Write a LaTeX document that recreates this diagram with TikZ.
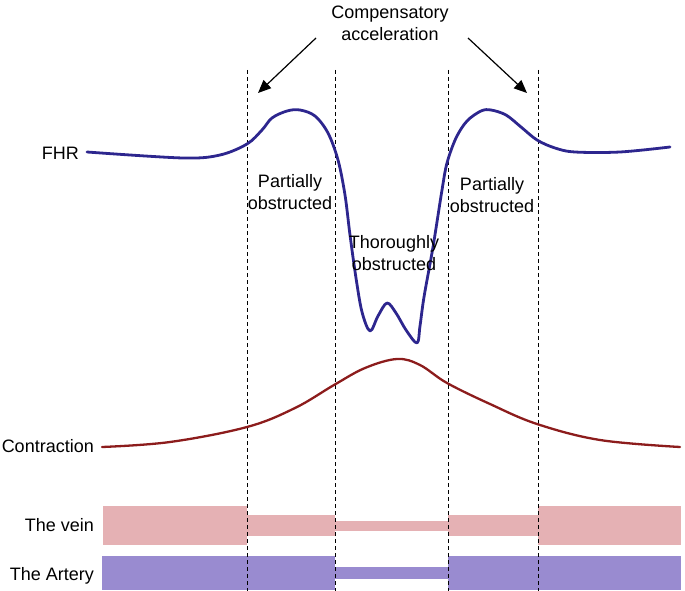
\documentclass[tikz,border=0pt]{standalone}
\usepackage{fontspec}
\setmainfont{Liberation Sans}
\usetikzlibrary{arrows.meta}
\definecolor{fhrblue}{RGB}{45,38,142}
\definecolor{contred}{RGB}{140,28,28}
\definecolor{veinpink}{RGB}{229,177,180}
\definecolor{arterypurple}{RGB}{153,139,208}
\tikzset{
  lbl/.style={font=\fontsize{18}{22}\selectfont, inner sep=0pt, align=center},
  rlbl/.style={font=\fontsize{18}{22}\selectfont, inner sep=0pt, anchor=east},
  divider/.style={black, line width=1pt, dash pattern=on 4pt off 3pt},
  fhr/.style={fhrblue, line width=2.8pt, line cap=round, line join=round},
  contr/.style={contred, line width=2.3pt, line cap=round},
  vein/.style={fill=veinpink, draw=none},
  artery/.style={fill=arterypurple, draw=none},
  pointer/.style={-{Triangle[length=13pt,width=11pt]}, line width=1.2pt, black}
}
\begin{document}
\begin{tikzpicture}[x=1pt,y=-1pt]
\useasboundingbox (0,0) rectangle (685,591);
% bars
\fill[vein] (103,506) rectangle (247,545);
\fill[vein] (247,515) rectangle (335,536);
\fill[vein] (335,521) rectangle (448,531);
\fill[vein] (448,515) rectangle (538,536);
\fill[vein] (538,506) rectangle (681,545);
\fill[artery] (102,556) rectangle (335,590);
\fill[artery] (335,567) rectangle (448,579);
\fill[artery] (448,556) rectangle (681,590);
% dividers
\foreach \x/\n in {247/a,335/b,448/c,538/d}{
  \coordinate (top\n) at (\x,70);
  \coordinate (bot\n) at (\x,591);
  \draw[divider] (top\n) -- (bot\n);
}
% contraction
\draw[contr] plot[smooth, tension=0.6] coordinates {(102,447) (170,442) (247,427) (295,408) (334,385) (365,368) (397,359) (420,365) (447,383) (490,404) (537,424) (600,440) (680,447)};
% FHR
\draw[fhr] plot[smooth, tension=0.55] coordinates {(87,152) (183,158) (220,155) (247,144) (262,130) (272,118) (287,111) (300,110) (315,116) (328,133) (338,160) (345,195) (350,235) (356,278) (362,312) (370,331) (378,316) (387,303) (396,313) (406,330) (417,343) (420,326) (424,297) (433,247) (442,190) (447,163) (456,138) (467,121) (481,111) (491,110) (506,115) (521,127) (537,140) (555,148) (575,152) (620,152) (670,147)};
% labels
\node[rlbl] (fhrl) at (79,153) {FHR};
\node[rlbl] (contl) at (94,446) {Contraction};
\node[rlbl] (veinl) at (94,525) {The vein};
\node[rlbl] (artl) at (94,576) {The Artery};
\node[lbl] (p1) at (290,192) {Partially\\obstructed};
\node[lbl] (th) at (394,253) {Thoroughly\\obstructed};
\node[lbl] (p2) at (492,195) {Partially\\obstructed};
\node[lbl] (comp) at (390,23) {Compensatory\\acceleration};
\coordinate (tipL) at (258,93);
\coordinate (tipR) at (527,93);
\draw[pointer] (316,38) -- (tipL);
\draw[pointer] (468,38) -- (tipR);
\end{tikzpicture}
\end{document}
